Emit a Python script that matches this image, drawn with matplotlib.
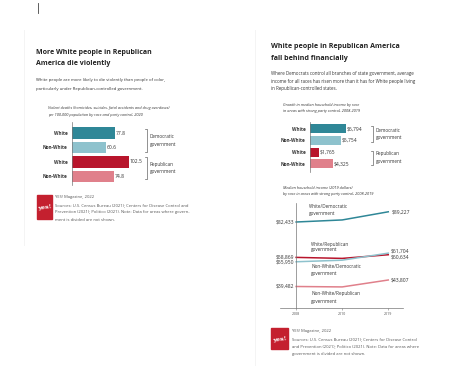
import matplotlib
matplotlib.use("Agg")
import matplotlib.pyplot as plt
from matplotlib.patches import Rectangle
from matplotlib.lines import Line2D

W, H = 474, 381

# ---- data ----
death_labels = ["White", "Non-White", "White", "Non-White"]
death_values = [77.8, 60.6, 102.5, 74.8]

growth_labels = ["White", "Non-White", "White", "Non-White"]
growth_values = [6794, 5754, 1765, 4325]

years = ["2008", "2010", "2019"]
white_dem = [82433, 83800, 89227]
white_rep = [58869, 58200, 60634]
nonwhite_dem = [55950, 57000, 61704]
nonwhite_rep = [39482, 39200, 43807]

DARK_TEAL = "#2f8797"
LIGHT_TEAL = "#8ec2cd"
DARK_RED = "#b8152c"
LIGHT_RED = "#e0808b"
bar_colors = [DARK_TEAL, LIGHT_TEAL, DARK_RED, LIGHT_RED]
TXT = "#333333"
FONT = ["Liberation Sans Narrow", "Open Sans", "DejaVu Sans"]

plt.rcParams["font.family"] = FONT

fig = plt.figure(figsize=(W / 100, H / 100), dpi=100)
fig.patch.set_facecolor("white")


def fx(x):
    return x / W


def fy(y):
    return 1 - y / H


def add_ax(x0, y0, x1, y1):
    return fig.add_axes([fx(x0), fy(y1), (x1 - x0) / W, (y1 - y0) / H])


def txt(x, y, s, size=3.2, **kw):
    kw.setdefault("color", TXT)
    kw.setdefault("va", "center")
    fig.text(fx(x), fy(y), s, fontsize=size, **kw)


def line(xs, ys, color="#555555", lw=0.5):
    fig.add_artist(Line2D([fx(v) for v in xs], [fy(v) for v in ys],
                          color=color, lw=lw, transform=fig.transFigure))


def bracket(x, y0, y1, label):
    line([x - 2, x, x, x - 2], [y0, y0, y1, y1], color="#666666", lw=0.5)
    txt(x + 3, (y0 + y1) / 2 - 4, label[0], size=3.3)
    txt(x + 3, (y0 + y1) / 2 + 4, label[1], size=3.3)


def logo(x0, y0, x1, y1, tx, ty, lines):
    fig.add_artist(Rectangle((fx(x0), fy(y1)), (x1 - x0) / W, (y1 - y0) / H,
                             color="#c4202f", transform=fig.transFigure))
    fig.text(fx((x0 + x1) / 2), fy((y0 + y1) / 2 + 1), "yes!", color="white",
             fontsize=4.6, fontweight="bold", family="DejaVu Serif",
             ha="center", va="center", rotation=8)
    txt(tx, ty, "YES! Magazine, 2022", size=3.0, color="#555555")
    for i, s in enumerate(lines):
        txt(tx, ty + 8 + i * 7.5, s, size=3.0, color="#555555")


# ---- faint panel edges ----
line([24, 24], [30, 245], color="#f2f2f2", lw=0.6)
line([255, 255], [30, 365], color="#f2f2f2", lw=0.6)
line([38, 38], [3, 13], color="#444444", lw=0.6)

# ---- left panel ----
txt(36, 53, "More White people in Republican", size=5.0, fontweight="bold", color="#222222")
txt(36, 63.5, "America die violently", size=5.0, fontweight="bold", color="#222222")
txt(36, 80, "White people are more likely to die violently than people of color,", size=3.1)
txt(36, 89, "particularly under Republican-controlled government.", size=3.1)
txt(48, 108, "Violent deaths (homicides, suicides, fatal accidents and drug overdoses)",
    size=2.75, style="italic")
txt(48, 115, "per 100,000 population by race and party control, 2020", size=2.75, style="italic")

ax1 = add_ax(72, 122, 135, 185)
pos = list(range(len(death_values)))
ax1.barh(pos, death_values, height=0.82, color=bar_colors)
ax1.set_xlim(0, 113)
ax1.set_ylim(3.59, -0.76)
for p, v in zip(pos, death_values):
    ax1.text(v + 1.5, p, f"{v}", va="center", ha="left", fontsize=3.6, color=TXT)
ax1.set_yticks(pos)
ax1.set_yticklabels(death_labels, fontsize=3.3, color=TXT, fontweight="bold")
ax1.tick_params(axis="y", length=0, pad=3)
ax1.set_xticks([])
for s in ["top", "right", "bottom"]:
    ax1.spines[s].set_visible(False)
ax1.spines["left"].set_color("#777777")
ax1.spines["left"].set_linewidth(0.5)
ax1.patch.set_alpha(0)

bracket(147, 129, 152, ("Democratic", "government"))
bracket(147, 157, 179, ("Republican", "government"))

logo(37, 195, 52, 219, 55, 197, [
    "Sources: U.S. Census Bureau (2021); Centers for Disease Control and",
    "Prevention (2021); Politico (2021). Note: Data for areas where govern-",
    "ment is divided are not shown.",
])

# ---- right panel ----
txt(271, 47, "White people in Republican America", size=5.1, fontweight="bold", color="#222222")
txt(271, 58, "fall behind financially", size=5.1, fontweight="bold", color="#222222")
txt(271, 73, "Where Democrats control all branches of state government, average", size=3.25)
txt(271, 81, "income for all races has risen more than it has for White people living", size=3.25)
txt(271, 88.5, "in Republican-controlled states.", size=3.25)
txt(283, 105, "Growth in median household income by race", size=2.8, style="italic")
txt(283, 111, "in areas with strong party control, 2008-2019", size=2.8, style="italic")

ax2 = add_ax(310, 122, 362, 172)
pos2 = list(range(len(growth_values)))
ax2.barh(pos2, growth_values, height=0.76, color=bar_colors)
ax2.set_xlim(0, 9800)
ax2.set_ylim(3.68, -0.55)
for p, v in zip(pos2, growth_values):
    ax2.text(v + 150, p, f"${v:,}", va="center", ha="left", fontsize=3.6, color=TXT)
ax2.set_yticks(pos2)
ax2.set_yticklabels(growth_labels, fontsize=3.3, color=TXT, fontweight="bold")
ax2.tick_params(axis="y", length=0, pad=3)
ax2.set_xticks([])
for s in ["top", "right", "bottom"]:
    ax2.spines[s].set_visible(False)
ax2.spines["left"].set_color("#777777")
ax2.spines["left"].set_linewidth(0.5)
ax2.patch.set_alpha(0)

bracket(373, 126, 142, ("Democratic", "government"))
bracket(373, 151, 165, ("Republican", "government"))

txt(283, 188, "Median household income (2019 dollars)", size=2.8, style="italic")
txt(283, 194, "by race in areas with strong party control, 2008-2019", size=2.8, style="italic")

ax3 = add_ax(280, 205, 403, 308)
xs = list(range(len(years)))
series = [
    (white_dem, DARK_TEAL),
    (white_rep, DARK_RED),
    (nonwhite_dem, LIGHT_TEAL),
    (nonwhite_rep, LIGHT_RED),
]
for vals, col in series:
    ax3.plot(xs, vals, color=col, lw=1.1, solid_joinstyle="miter")
ax3.set_xlim(-0.35, 2.32)
ax3.set_ylim(25163, 93755)
ax3.axvline(0, color="#777777", lw=0.5, ymin=0, ymax=1.02, clip_on=False)
ax3.set_xticks(xs)
ax3.set_xticklabels(years, fontsize=2.6, color="#555555")
ax3.tick_params(axis="x", length=1.5, width=0.4, pad=1.5, color="#777777")
ax3.set_yticks([])
for s in ["top", "right", "left"]:
    ax3.spines[s].set_visible(False)
ax3.spines["bottom"].set_color("#777777")
ax3.spines["bottom"].set_linewidth(0.5)
ax3.patch.set_alpha(0)

# end-point labels
for vals, col in series:
    ax3.text(-0.05, vals[0], f"${vals[0]:,}", ha="right", va="center", fontsize=3.6, color=TXT)
ax3.text(2.08, white_dem[2], f"${white_dem[2]:,}", ha="left", va="center", fontsize=3.6, color=TXT)
ax3.text(2.05, nonwhite_dem[2] + 1400, f"${nonwhite_dem[2]:,}", ha="left", va="center", fontsize=3.6, color=TXT)
ax3.text(2.05, white_rep[2] - 1400, f"${white_rep[2]:,}", ha="left", va="center", fontsize=3.6, color=TXT)
ax3.text(2.05, nonwhite_rep[2], f"${nonwhite_rep[2]:,}", ha="left", va="center", fontsize=3.6, color=TXT)

# series names
txt(309, 206, "White/Democratic", size=3.3)
txt(309, 213, "government", size=3.3)
txt(311, 244, "White/Republican", size=3.3)
txt(311, 250, "government", size=3.3)
txt(311, 267, "Non-White/Democratic", size=3.3)
txt(311, 273, "government", size=3.3)
txt(311, 294, "Non-White/Republican", size=3.3)
txt(311, 301, "government", size=3.3)

logo(271, 328, 288, 349, 292, 331, [
    "Sources: U.S. Census Bureau (2021); Centers for Disease Control",
    "and Prevention (2021); Politico (2021). Note: Data for areas where",
    "government is divided are not shown.",
])

fig.savefig("out.png", dpi=100, facecolor="white")
